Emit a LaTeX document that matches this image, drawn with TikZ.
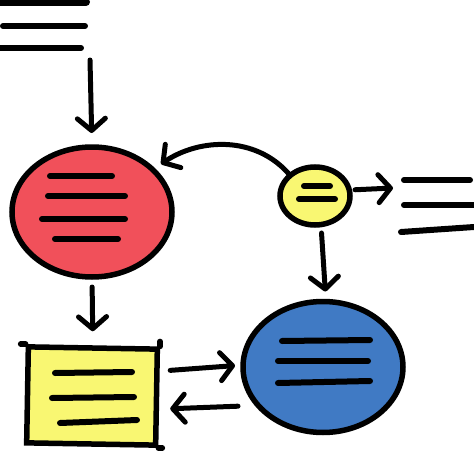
\documentclass[tikz,border=0pt]{standalone}
\usetikzlibrary{shapes.geometric,arrows.meta}
\definecolor{redfill}{RGB}{241,80,90}
\definecolor{bluefill}{RGB}{64,122,196}
\definecolor{yellowfill}{RGB}{249,247,114}
\tikzset{blob/.style={ellipse,draw=black,line width=5.5pt,inner sep=0,outer sep=0}}
\tikzset{bar/.style={line width=6pt,line cap=round}}
\tikzset{link/.style={line width=5pt,line cap=round,-{Straight Barb[length=12pt,width=28pt,round]}}}

\begin{document}
\begin{tikzpicture}[x=1pt,y=-1pt]
\useasboundingbox (0,0) rectangle (474,452);
% Blobs
\node[blob,fill=redfill,minimum width=160pt,minimum height=130pt] (red) at (92,212) {};
\node[blob,fill=bluefill,minimum width=160pt,minimum height=131pt] (blue) at (323,367) {};
\node[blob,fill=yellowfill,minimum width=70pt,minimum height=58pt] (dot) at (315,196) {};
% Note
\node[draw=black,line width=5.5pt,fill=yellowfill,minimum width=129pt,minimum height=96pt,inner sep=0,rotate=-1] (note) at (92,396) {};
\draw[line width=5.5pt,line cap=round] (note.north west) --++ (-5,0);
\draw[line width=5.5pt,line cap=round] (note.north east) --++ (0,-5);
\draw[line width=5.5pt,line cap=round] (note.south east) --++ (4,0);
% Free ends
\coordinate (listtop) at (90,60);
\coordinate (listright) at (393,188);
\coordinate (tipred) at (161,164);
% Top list
\draw[bar,line width=8pt] (0,2) -- (86,2);
\draw[bar] (3,26) -- (85,26);
\draw[bar] (0,48) -- (81,48);
% Right list
\draw[bar] (404,180) -- (470,180);
\draw[bar] (404,205) -- (474,205);
\draw[bar] (401,232) -- (474,227);
% Red text
\draw[bar] (50,176) -- (112,176);
\draw[bar] (48,196) -- (125,196);
\draw[bar] (42,219) -- (125,219);
\draw[bar] (55,239) -- (118,239);
% Dot text
\draw[bar] (304,186) -- (330,186);
\draw[bar] (299,199) -- (335,199);
% Blue text
\draw[bar] (282,341) -- (370,340);
\draw[bar] (278,361) -- (368,361);
\draw[bar] (278,383) -- (370,381);
% Note text
\draw[bar] (55,373) -- (132,372);
\draw[bar] (52,398) -- (134,397);
\draw[bar] (60,423) -- (137,420);
% Arrows
\draw[link,shorten >=14pt] (listtop) -- (red.north);
\draw[link,shorten <=3pt] (dot.north west) .. controls (255,136) and (200,138) .. (tipred);
\draw[link,shorten <=5pt] ([yshift=6pt]dot.east) -- (listright);
\draw[link,shorten <=8pt,shorten >=10pt] ([xshift=6pt]dot.south) -- ([xshift=3pt]blue.north);
\draw[link,shorten <=10pt,shorten >=14pt] (red.south) -- (note.north);
\draw[link,shorten <=11pt,shorten >=8pt] ([yshift=26pt]note.east) -- ([yshift=2pt]blue.west);
\draw[link,shorten <=5pt,shorten >=11pt] ([yshift=-39pt]blue.west) -- ([yshift=-12pt]note.east);
\end{tikzpicture}
\end{document}
